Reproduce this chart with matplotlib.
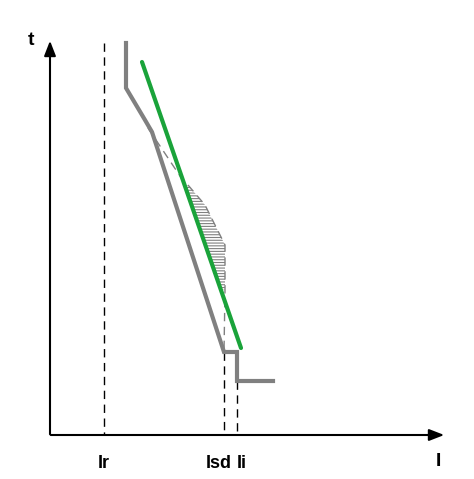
import matplotlib
matplotlib.use("Agg")
import matplotlib.pyplot as plt

plt.rcParams["font.family"] = ["Liberation Sans", "DejaVu Sans"]

# coordinates in a pixel-like frame (x right, y down)
curve_x = [126, 126, 145, 152, 224, 237, 237, 273]
curve_y = [43, 88, 120, 132, 352, 352, 381, 381]
green_x = [142, 241]
green_y = [62, 348]
dash_x = [148, 186]
dash_y = [128, 185]
bound_x = [188, 205, 220, 225, 225, 224]
bound_y = [185, 205, 235, 245, 290, 352]
vlines_x = [104, 224, 237]
vlines_top = [43, 352, 381]
tick_labels = ["Ir", "Isd", "Ii"]
label_x = [104, 219, 242]

fig = plt.figure(figsize=(4.74, 4.79), dpi=100)
ax = fig.add_axes([0, 0, 1, 1])
ax.set_xlim(0, 474)
ax.set_ylim(479, 0)
ax.axis("off")

gray = "#808080"
ax.annotate("", xy=(447, 435), xytext=(48, 435),
            arrowprops=dict(arrowstyle="-|>,head_length=0.9,head_width=0.35", color="black", lw=1.5))
ax.annotate("", xy=(50, 38), xytext=(50, 437),
            arrowprops=dict(arrowstyle="-|>,head_length=0.9,head_width=0.35", color="black", lw=1.5))
ax.text(31, 40, "t", fontsize=14, fontweight="bold", ha="center", va="center")
ax.text(438, 461, "I", fontsize=14, fontweight="bold", ha="center", va="center")

for x, top in zip(vlines_x, vlines_top):
    ax.plot([x, x], [top, 435], color="black", lw=1, dashes=(6, 4))
for x, lab in zip(label_x, tick_labels):
    ax.text(x, 463, lab, fontsize=13, fontweight="bold", ha="center", va="center")

def gx(y):
    return green_x[0] + (y - green_y[0]) * (green_x[1] - green_x[0]) / (green_y[1] - green_y[0])
px = [gx(185)] + bound_x[:5] + [gx(290)]
py = [185] + bound_y[:5] + [290]
plt.rcParams["hatch.linewidth"] = 0.8
ax.fill(px, py, facecolor="none", edgecolor=gray, linewidth=0, hatch="------")
ax.plot(dash_x, dash_y, color=gray, lw=1, dashes=(6, 4))
ax.plot(bound_x, bound_y, color=gray, lw=1, dashes=(6, 4))

ax.plot(curve_x, curve_y, color=gray, lw=3, solid_joinstyle="miter")
ax.plot(green_x, green_y, color="#1aa33a", lw=3, solid_capstyle="round")

fig.savefig("out.png", dpi=100)
